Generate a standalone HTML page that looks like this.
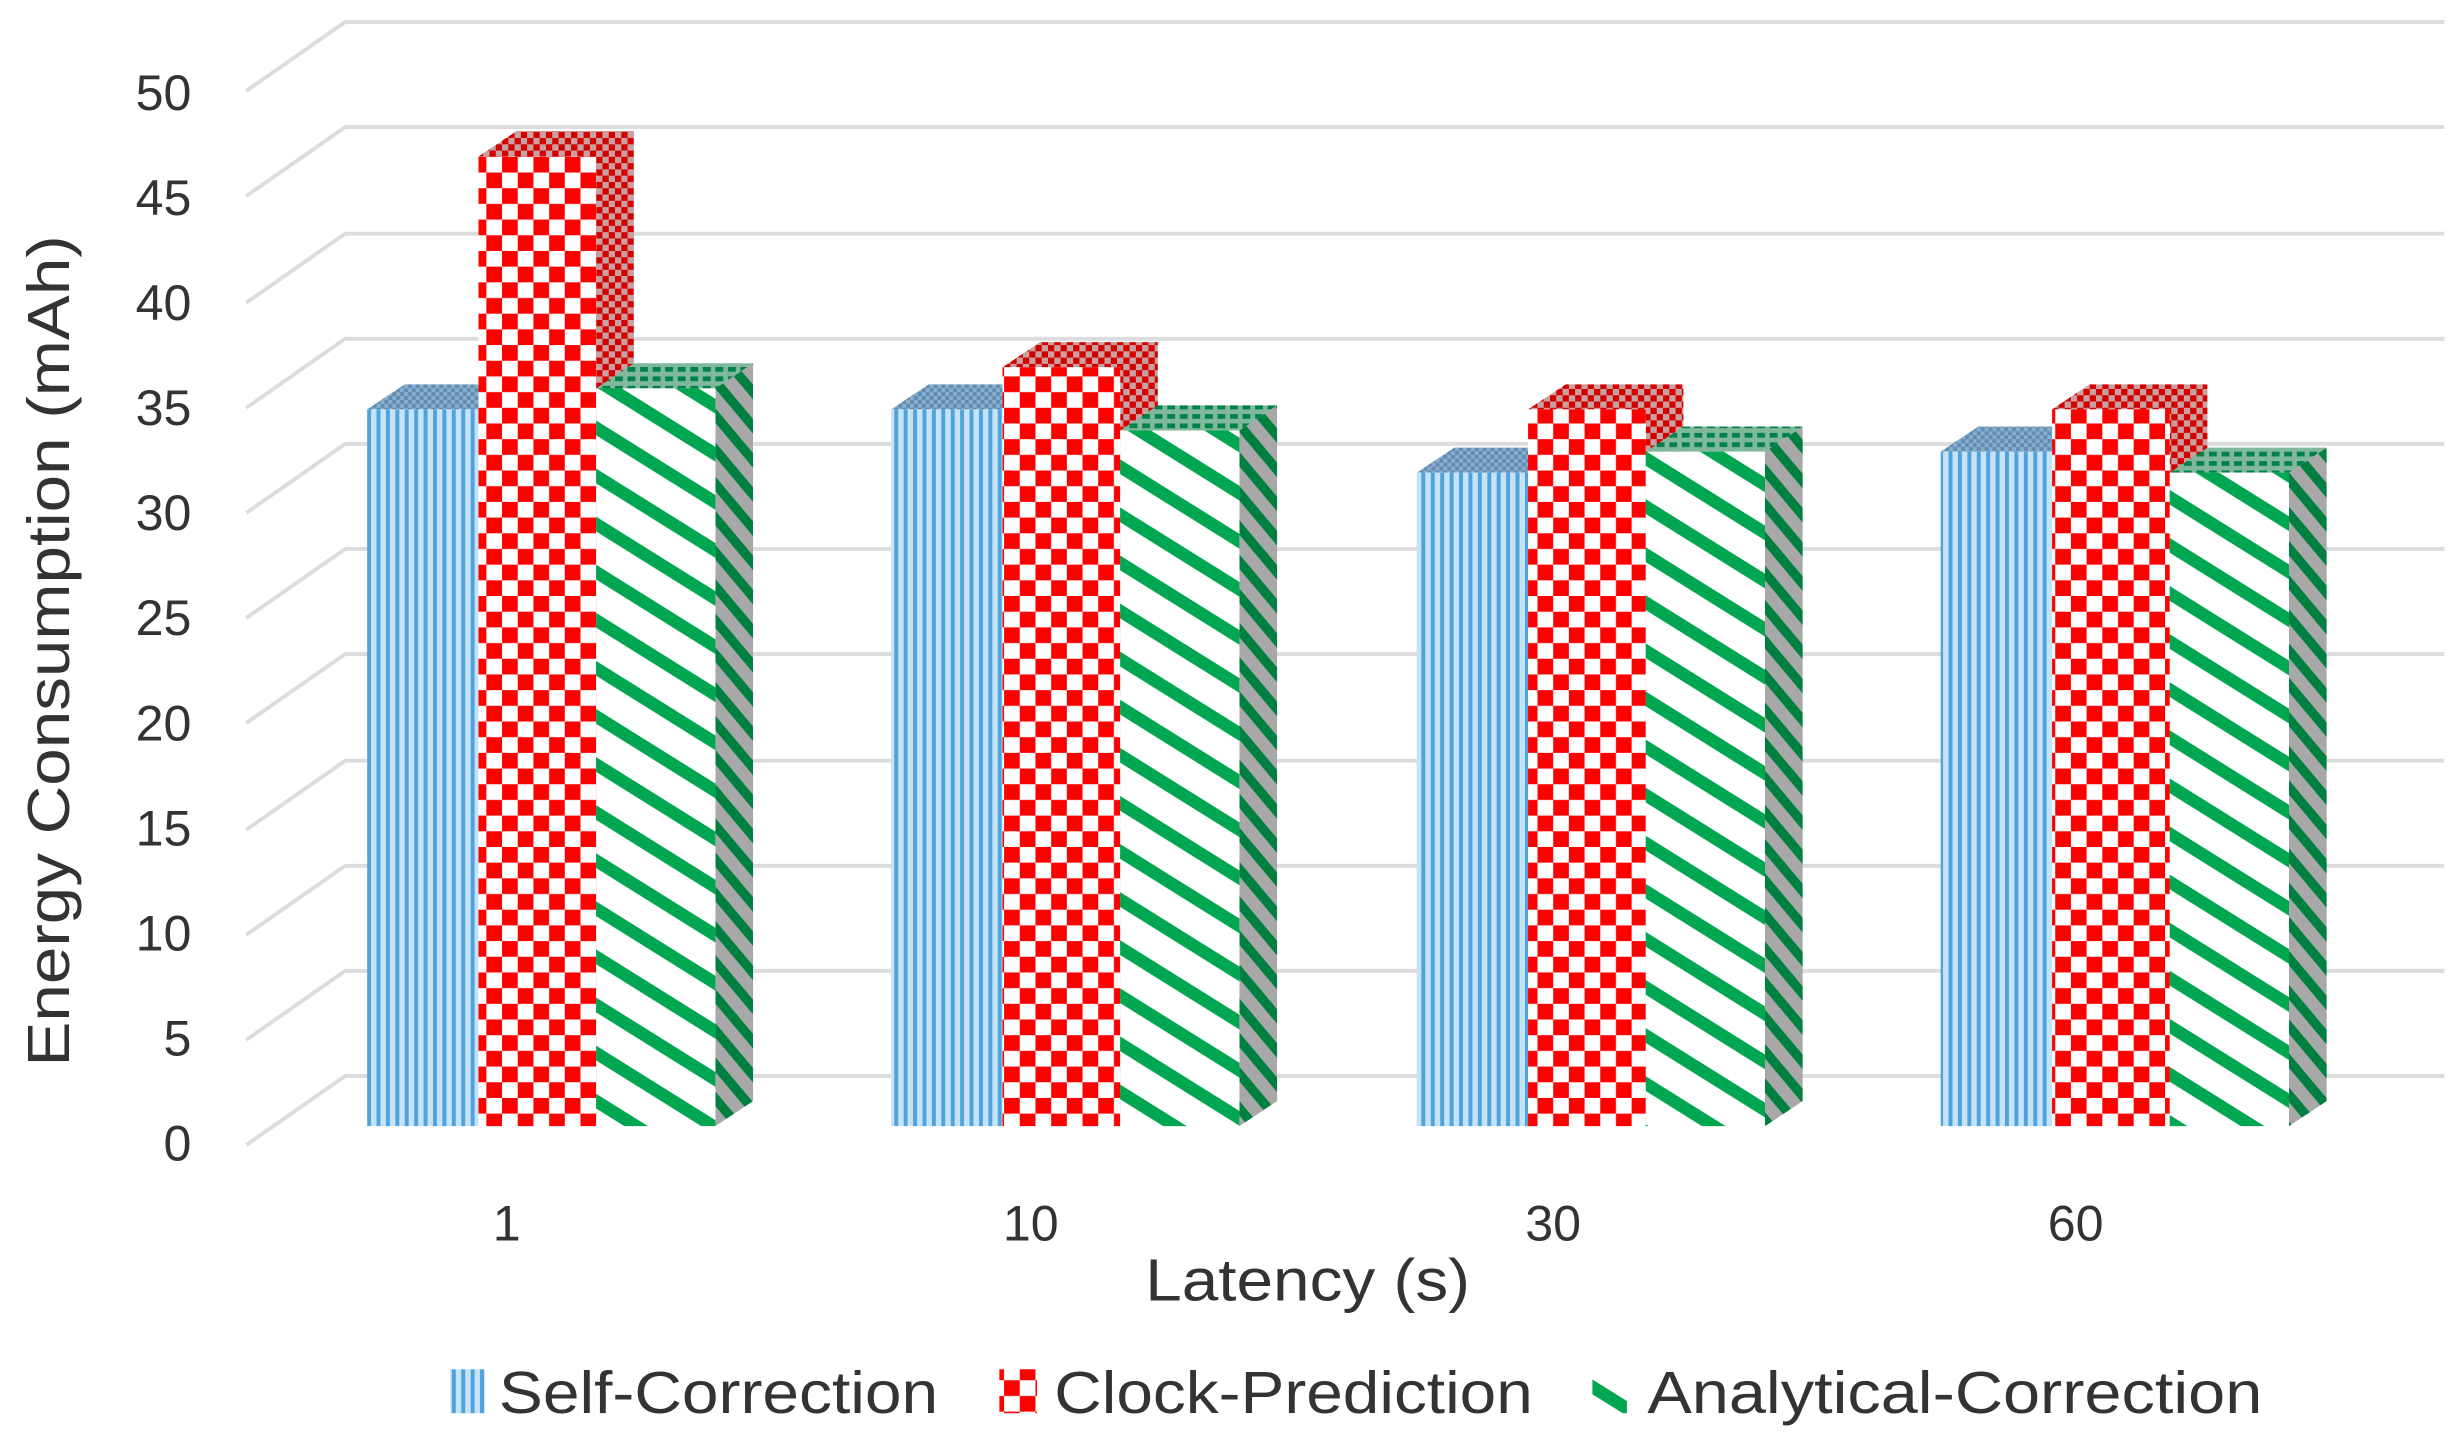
<!DOCTYPE html>
<html><head><meta charset="utf-8"><style>
html,body{margin:0;padding:0;background:#fff;}
svg{display:block;}
text{font-family:"Liberation Sans",sans-serif;fill:#333;}
</style></head><body>
<svg width="2460" height="1443" viewBox="0 0 1568 920" preserveAspectRatio="none" xmlns="http://www.w3.org/2000/svg">
<defs>
<pattern id="blue" width="6" height="10" patternUnits="userSpaceOnUse">
<rect width="6" height="10" fill="#c6e2f6"/><rect x="0" width="2.5" height="10" fill="#4ea3dc"/></pattern>
<pattern id="blueTop" width="5" height="5" patternUnits="userSpaceOnUse">
<rect width="5" height="5" fill="#8aaecb"/><rect width="2.5" height="2.5" fill="#5f8db4"/><rect x="2.5" y="2.5" width="2.5" height="2.5" fill="#5f8db4"/></pattern>
<pattern id="red" width="20" height="20" patternUnits="userSpaceOnUse">
<rect width="20" height="20" fill="#fff"/><rect width="10" height="10" fill="#ff0000"/><rect x="10" y="10" width="10" height="10" fill="#ff0000"/></pattern>
<pattern id="redSide" width="8" height="8" patternUnits="userSpaceOnUse">
<rect width="8" height="8" fill="#c8a0a0"/><rect width="4" height="4" fill="#d40000"/><rect x="4" y="4" width="4" height="4" fill="#d40000"/></pattern>
<pattern id="green" width="26" height="26" patternUnits="userSpaceOnUse" patternTransform="rotate(32)">
<rect width="26" height="26" fill="#fff"/><rect width="26" height="8" fill="#00a650"/></pattern>
<pattern id="greenSide" width="14" height="14" patternUnits="userSpaceOnUse" patternTransform="rotate(50)">
<rect width="14" height="14" fill="#a8a8a8"/><rect width="14" height="6" fill="#008040"/></pattern>
<pattern id="greenTop" width="8" height="6" patternUnits="userSpaceOnUse">
<rect width="8" height="6" fill="#7fb89a"/><rect width="5" height="3" fill="#00804a"/></pattern>
</defs>
<g stroke="#dcdcdc" stroke-width="2.5" fill="none">
<path d="M157 730 L220 686 H1558 M157 663 L220 619 H1558 M157 596 L220 552 H1558 M157 529 L220 485 H1558 M157 461 L220 417 H1558 M157 394 L220 350 H1558 M157 327 L220 283 H1558 M157 260 L220 216 H1558 M157 193 L220 149 H1558 M157 125 L220 81 H1558 M157 58 L220 14 H1558"/>
</g>
<g font-size="32" text-anchor="end">
<text x="122" y="740">0</text><text x="122" y="673">5</text><text x="122" y="606">10</text><text x="122" y="539">15</text><text x="122" y="472">20</text><text x="122" y="405">25</text><text x="122" y="338">30</text><text x="122" y="271">35</text><text x="122" y="204">40</text><text x="122" y="137">45</text><text x="122" y="70">50</text>
</g>
<g id="bars"></g>
<text transform="translate(44,415) rotate(-90)" font-size="38" text-anchor="middle" textLength="530" lengthAdjust="spacingAndGlyphs">Energy Consumption (mAh)</text>
<g font-size="32" text-anchor="middle">
<text x="323" y="791">1</text><text x="657" y="791">10</text><text x="990" y="791">30</text><text x="1323" y="791">60</text>
</g>
<text x="730" y="829" font-size="38" textLength="207" lengthAdjust="spacingAndGlyphs">Latency (s)</text>
<g font-size="38">
<rect x="287" y="873" width="22" height="28" fill="url(#blue)"/>
<text x="318" y="901" textLength="280" lengthAdjust="spacingAndGlyphs">Self-Correction</text>
<rect x="637" y="873" width="24" height="28" fill="url(#red)"/>
<text x="672" y="901" textLength="305" lengthAdjust="spacingAndGlyphs">Clock-Prediction</text>
<rect x="1015" y="873" width="22" height="28" fill="url(#green)"/>
<text x="1050" y="901" textLength="392" lengthAdjust="spacingAndGlyphs">Analytical-Correction</text>
</g>
<script>
(function(){
var ns="http://www.w3.org/2000/svg",g=document.getElementById("bars");
var vals=[[34,46,35],[34,36,33],[31,34,32],[32,34,31]];
var gx=[234,568,903,1237],w=[71,75,76],base=718,k=13.44,dx=24,dy=16;
var fr=["url(#blue)","url(#red)","url(#green)"],tp=["url(#blueTop)","url(#redSide)","url(#greenTop)"],sd=["url(#blueTop)","url(#redSide)","url(#greenSide)"];
function poly(p,f){var e=document.createElementNS(ns,"polygon");e.setAttribute("points",p);e.setAttribute("fill",f);g.appendChild(e);}
for(var i=0;i<4;i++){var x=gx[i];for(var j=0;j<3;j++){var v=vals[i][j],t=base-v*k,x2=x+w[j];
poly([x2,t,x2+dx,t-dy,x2+dx,base-dy,x2,base].join(" "),sd[j]);
poly([x,t,x+dx,t-dy,x2+dx,t-dy,x2,t].join(" "),tp[j]);
poly([x,t,x2,t,x2,base,x,base].join(" "),fr[j]);
x=x2;}}
})();
</script>
</svg>
</body></html>
